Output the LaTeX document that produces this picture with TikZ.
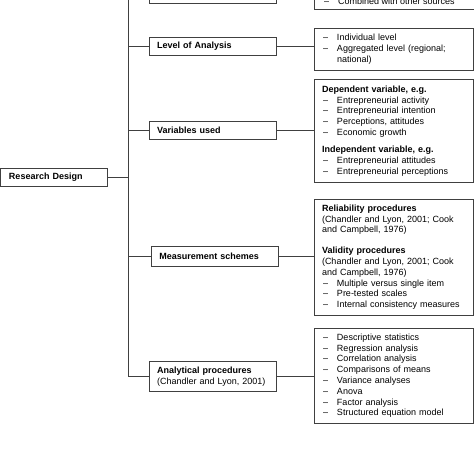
\documentclass[tikz,border=0pt]{standalone}
\usepackage{fontspec}
\setmainfont{Liberation Sans}
\begin{document}
\begin{tikzpicture}[x=1pt,y=-1pt,
  font=\fontsize{9}{10.8}\selectfont,
  box/.style={draw=black!75, line width=0.9pt, inner ysep=0pt, align=left},
  midbox/.style={box, inner xsep=8pt, text width=111pt, minimum height=18.4pt},
  rightbox/.style={box, inner xsep=8pt, text width=143.5pt},
  conn/.style={draw=black!75, line width=0.9pt}]
\useasboundingbox (0,0) rectangle (474,474);
\clip (0,0) rectangle (474,474);
\newcommand{\itm}[1]{\makebox[15pt][l]{\hspace{1pt}–}#1}
% top partial boxes
\node[box, minimum width=126.7pt, minimum height=30pt, anchor=south west] (top) at (149.3,4) {};
\node[box, minimum width=159.5pt, minimum height=40pt, anchor=south west] (topr) at (314,9.7) {};
\node[anchor=west, inner sep=0pt] (toptext) at (323,0.8) {\itm{Combined with other sources}};
% Research Design
\node[box, inner xsep=8.5pt, text width=90pt, minimum height=18.4pt] (rd) at (54,177.5) {\textbf{Research Design}};
% Level of Analysis
\node[midbox] (loa) at (212.6,46.2) {\textbf{Level of Analysis}};
\node[rightbox, minimum height=41.5pt] (loar) at (393.75,49.2) {\itm{Individual level}\\\itm{Aggregated level (regional;}\\\hspace{15pt}national)\\[1.5pt]};
% Variables used
\node[midbox] (var) at (212.6,130.4) {\textbf{Variables used}};
\node[rightbox, minimum height=103.4pt] (varr) at (393.75,131) {\textbf{Dependent variable, e.g.}\\
\itm{Entrepreneurial activity}\\
\itm{Entrepreneurial intention}\\
\itm{Perceptions, attitudes}\\
\itm{Economic growth}\\[6.3pt]
\textbf{Independent variable, e.g.}\\
\itm{Entrepreneurial attitudes}\\
\itm{Entrepreneurial perceptions}};
% Measurement schemes
\node[midbox, minimum height=19.3pt] (meas) at (214.9,256.4) {\textbf{Measurement schemes}};
\node[rightbox, minimum height=115.7pt] (measr) at (393.75,257.2) {\textbf{Reliability procedures}\\
(Chandler and Lyon, 2001; Cook\\
and Campbell, 1976)\\[10pt]
\textbf{Validity procedures}\\
(Chandler and Lyon, 2001; Cook\\
and Campbell, 1976)\\
\itm{Multiple versus single item}\\
\itm{Pre-tested scales}\\
\itm{Internal consistency measures}};
% Analytical procedures
\node[midbox, minimum height=30pt] (ana) at (212.6,376.7) {\textbf{Analytical procedures}\\(Chandler and Lyon, 2001)};
\node[rightbox, minimum height=95pt] (anar) at (393.75,375.8) {\itm{Descriptive statistics}\\
\itm{Regression analysis}\\
\itm{Correlation analysis}\\
\itm{Comparisons of means}\\
\itm{Variance analyses}\\
\itm{Anova}\\
\itm{Factor analysis}\\
\itm{Structured equation model}};
% connectors
\coordinate (trunktop) at (128,-2);
\draw[conn] (trunktop) |- (ana.west);
\draw[conn] (rd.east) -- (rd.east -| trunktop);
\draw[conn] (loa.west -| trunktop) -- (loa.west);
\draw[conn] (var.west -| trunktop) -- (var.west);
\draw[conn] (meas.west -| trunktop) -- (meas.west);
\draw[conn] (loa.east) -- (loa.east -| loar.west);
\draw[conn] (var.east) -- (var.east -| varr.west);
\draw[conn] (meas.east) -- (meas.east -| measr.west);
\draw[conn] (ana.east) -- (ana.east -| anar.west);
\end{tikzpicture}
\end{document}
